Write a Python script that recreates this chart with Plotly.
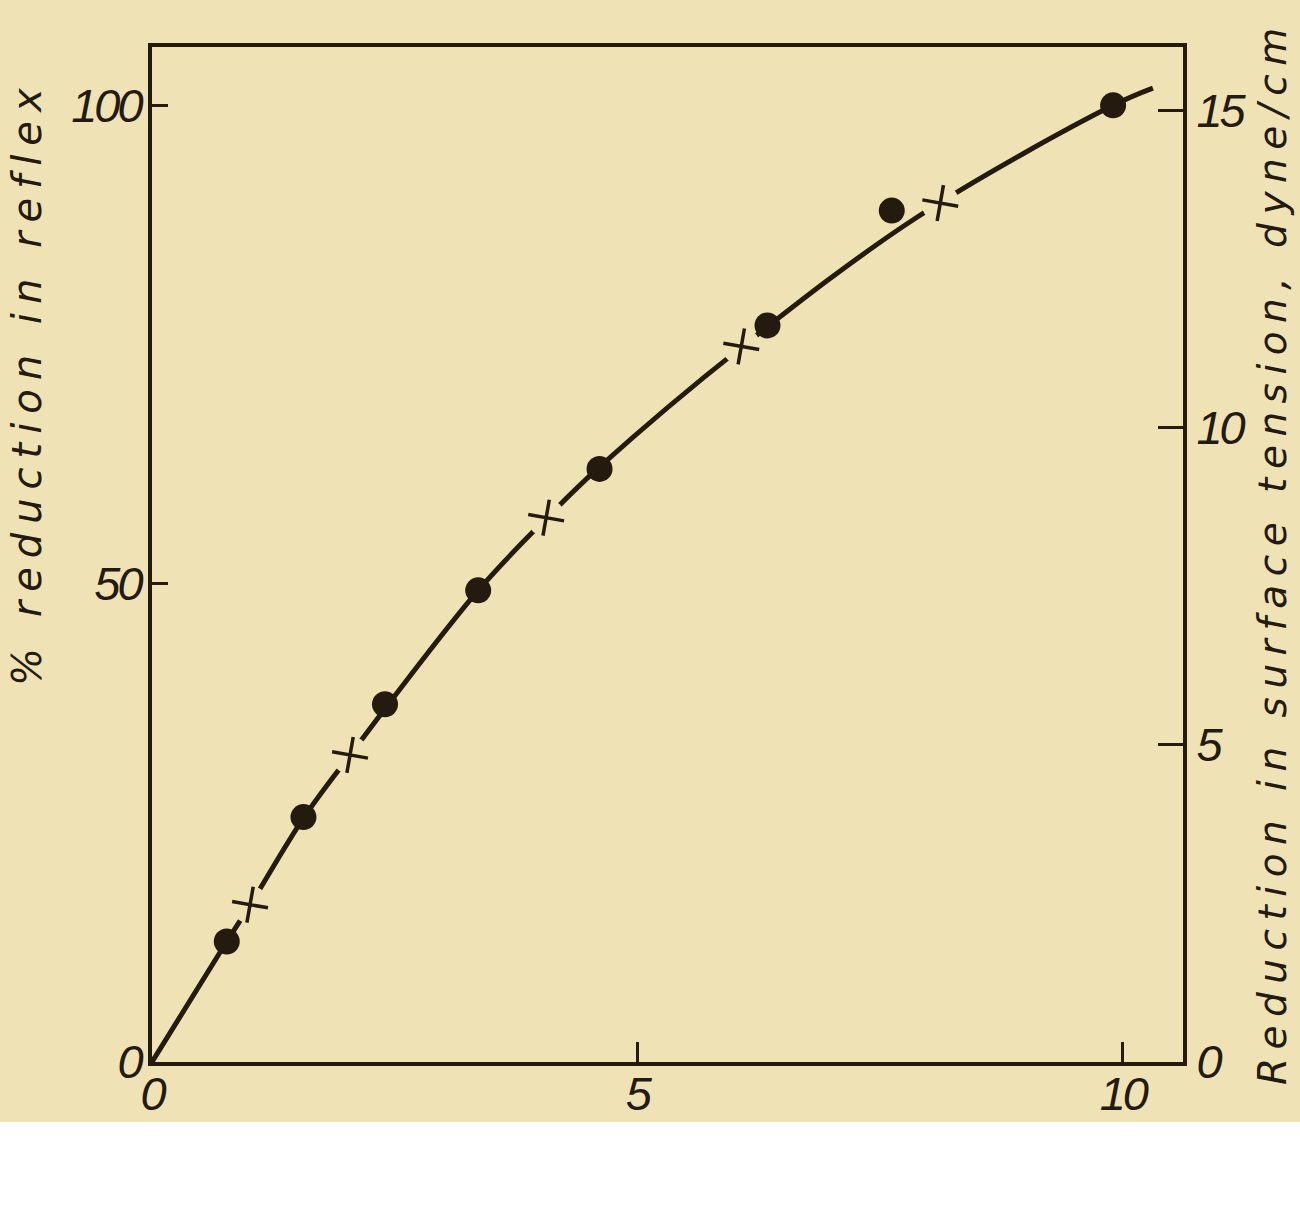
import plotly.graph_objects as go

# ---- data ----
x_ticks = [0, 5, 10]
left_ticks = [0, 50, 100]
right_ticks = [0, 5, 10, 15]

# filled dots: % reduction in reflex (left axis)
reflex_x = [0.77, 1.56, 2.40, 3.36, 4.61, 6.34, 7.62, 9.90]
reflex_y = [12.6, 25.6, 37.4, 49.3, 62.0, 77.0, 89.0, 100.0]

# crosses: reduction in surface tension, dyne/cm (right axis)
tension_x = [1.01, 2.04, 4.06, 6.07, 8.12]
tension_y = [2.48, 4.84, 8.58, 11.28, 13.54]

# drawn curve (left-axis units)
curve_x = [0, 0.77, 1.01, 1.56, 2.04, 3.36, 4.06, 4.61, 6.07, 7.88, 9.90, 10.31]
curve_y = [0, 12.6, 16.4, 25.5, 32.1, 49.3, 56.8, 62.2, 74.7, 88.3, 100.0, 101.8]

INK = "#241a0e"
PAPER = "#EFE3B6"
TITLE_FONT = "DejaVu Sans"
TICK_FONT = "Liberation Sans"


def tick_text(vals):
    return ['<span style="letter-spacing:-3px">%s</span>' % v for v in vals]


fig = go.Figure()

fig.add_trace(go.Scatter(
    x=curve_x, y=curve_y, mode="lines",
    line=dict(color=INK, width=5, shape="spline", smoothing=1.0),
    hoverinfo="skip", showlegend=False))

# background halos that break the curve around the crosses
fig.add_trace(go.Scatter(
    x=tension_x, y=tension_y, yaxis="y2", mode="markers",
    marker=dict(symbol="circle", size=38, color=PAPER, line=dict(width=0)),
    hoverinfo="skip", showlegend=False))

fig.add_trace(go.Scatter(
    x=reflex_x, y=reflex_y, mode="markers",
    marker=dict(symbol="circle", size=26, color=INK, line=dict(width=0)),
    showlegend=False))

fig.add_trace(go.Scatter(
    x=tension_x, y=tension_y, yaxis="y2", mode="markers",
    marker=dict(symbol="cross-thin", size=26, angle=10,
                line=dict(width=3.5, color=INK)),
    showlegend=False))

tick_font = dict(family=TICK_FONT, size=47, color=INK, style="italic")

fig.update_layout(
    width=1300, height=1214,
    margin=dict(l=152, r=117, t=47, b=152),
    paper_bgcolor=PAPER, plot_bgcolor=PAPER,
    xaxis=dict(range=[0, 10.62], tickvals=x_ticks, ticktext=tick_text(x_ticks),
               ticks="inside", ticklen=20, tickwidth=3, tickcolor=INK,
               showline=True, linewidth=4, linecolor=INK, mirror=True,
               showgrid=False, zeroline=False, tickfont=tick_font,
               ticklabelstandoff=-12),
    yaxis=dict(range=[0, 106.1], tickvals=left_ticks, ticktext=tick_text(left_ticks),
               ticks="inside", ticklen=16, tickwidth=3, tickcolor=INK,
               showline=True, linewidth=4, linecolor=INK, mirror=True,
               showgrid=False, zeroline=False, tickfont=tick_font,
               ticklabelstandoff=-2),
    yaxis2=dict(range=[0, 16.0], tickvals=right_ticks, ticktext=tick_text(right_ticks),
                overlaying="y", side="right",
                ticks="inside", ticklen=25, tickwidth=3, tickcolor=INK,
                showline=True, linewidth=4, linecolor=INK,
                showgrid=False, zeroline=False, tickfont=tick_font,
                ticklabelstandoff=0),
    font=dict(family=TITLE_FONT, color=INK),
)

fig.add_annotation(
    text='<span style="letter-spacing:9px">% reduction in reflex</span>',
    xref="paper", yref="paper", x=(27 - 152) / 1031, y=(1062 - 383) / 1015,
    xanchor="center", yanchor="middle", textangle=-90, showarrow=False,
    font=dict(family=TITLE_FONT, size=40, color=INK, style="italic"))

fig.add_annotation(
    text='<span style="letter-spacing:8.5px">Reduction in surface tension, dyne/cm</span>',
    xref="paper", yref="paper", x=(1272 - 152) / 1031, y=(1062 - 552) / 1015,
    xanchor="center", yanchor="middle", textangle=-90, showarrow=False,
    font=dict(family=TITLE_FONT, size=39, color=INK, style="italic"))

# white band along the bottom of the picture
fig.add_shape(type="rect", xref="paper", yref="paper",
              x0=-0.2, x1=1.2, y0=(1062 - 1230) / 1015, y1=(1062 - 1122) / 1015,
              fillcolor="white", line=dict(width=0), layer="above")

fig.write_html("out.html",
               config={"displayModeBar": False},
               post_script="document.body.style.margin='0px';document.body.style.overflow='hidden';")
